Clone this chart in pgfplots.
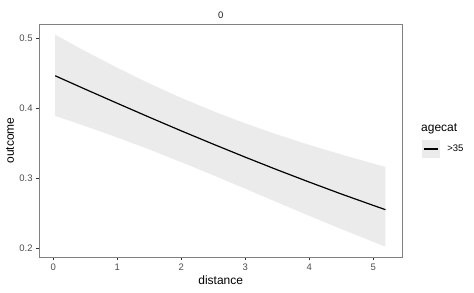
\documentclass[border=0pt]{standalone}
\usepackage{pgfplots}
\pgfplotsset{compat=1.18}
\usepackage{pgfplotstable}
\usepgfplotslibrary{fillbetween}
\usepackage{fontspec}
\setmainfont{Liberation Sans}
\definecolor{ribbon}{RGB}{235,235,235}
\definecolor{tickgrey}{RGB}{77,77,77}
\definecolor{stripgrey}{RGB}{26,26,26}
\definecolor{bordergrey}{RGB}{128,128,128}
\definecolor{tickmark}{RGB}{51,51,51}
\pgfplotstableread{
x fit lo hi
0.03 0.4470 0.3898 0.5057
0.5 0.4278 0.3751 0.4822
1 0.4077 0.3588 0.4584
1.5 0.3878 0.3417 0.4361
2 0.3683 0.3236 0.4154
2.5 0.3493 0.3049 0.3964
3 0.3307 0.2856 0.3790
3.5 0.3126 0.2662 0.3630
4 0.2951 0.2469 0.3483
4.5 0.2781 0.2280 0.3345
5 0.2618 0.2097 0.3215
5.19 0.2557 0.2029 0.3168
}\datatable
\begin{document}
\begin{tikzpicture}
\begin{axis}[
  scale only axis, width=362.5pt, height=233pt,
  clip mode=individual,
  xmin=-0.2156, xmax=5.448, ymin=0.1881, ymax=0.5210,
  xtick={0,1,2,3,4,5}, ytick={0.2,0.3,0.4,0.5},
  xticklabels={0,1,2,3,4,5},
  yticklabels={0.2,0.3,0.4,0.5},
  /pgf/number format/assume math mode=true,
  tick align=outside, xtick pos=bottom, ytick pos=left,
  major tick length=3.4pt,
  every tick/.style={color=tickmark, line width=0.6pt},
  axis line style={color=bordergrey, line width=0.6pt},
  ticklabel style={font=\fontsize{9.5}{11}\selectfont, text=tickgrey},
  xlabel={distance}, ylabel={outcome},
  label style={font=\fontsize{12}{14}\selectfont, text=black},
  xlabel style={at={(axis description cs:0.5,-0.0987)}, anchor=center},
  ylabel style={at={(axis description cs:-0.0814,0.5)}, anchor=center},
  legend style={at={(axis description cs:1.0543,0.4635)}, anchor=west, draw=none, fill=none,
    inner sep=0pt, column sep=7.7pt, font=\fontsize{9.5}{11}\selectfont, nodes={inner sep=0pt}},
  legend cell align=left,
  legend image code/.code={
    \fill[ribbon] (0pt,-8.3pt) rectangle (16.6pt,8.3pt);
    \draw[black, line width=1.2pt] (1.5pt,0pt) -- (15.1pt,0pt);
  },
]
\addplot[name path=hi, draw=none, forget plot] table[x=x, y=hi] {\datatable};
\addplot[name path=lo, draw=none, forget plot] table[x=x, y=lo] {\datatable};
\addplot[fill=ribbon, draw=none, forget plot] fill between[of=hi and lo];
\addplot[black, line width=1.2pt] table[x=x, y=fit] {\datatable};
\addlegendentry{>35}
\node[anchor=west, inner sep=0pt, font=\fontsize{12}{14}\selectfont] at (axis description cs:1.0524,0.5494) {agecat};
\node[anchor=center, inner sep=0pt, font=\fontsize{9.5}{11}\selectfont, text=stripgrey] at (axis description cs:0.5,1.0386) {0};
\end{axis}
\path (-39.5pt,-35pt) rectangle (434.5pt,257pt);
\end{tikzpicture}
\end{document}
